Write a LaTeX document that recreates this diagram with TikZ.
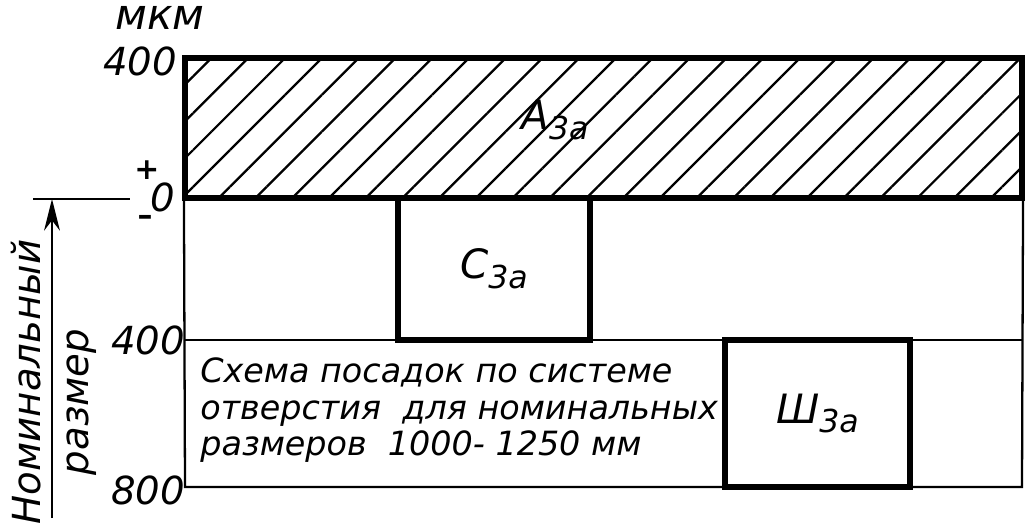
\documentclass[tikz,border=0pt]{standalone}
\usepackage{fontspec}
\setmainfont{DejaVu Sans}
\usetikzlibrary{arrows.meta, patterns.meta}
\def \Afit {А\raisebox{-0.45ex}{\fontsize{18}{18}\selectfont 3а}}
\def \Cfit {С\raisebox{-0.45ex}{\fontsize{18}{18}\selectfont 3а}}
\def \Shfit {Ш\raisebox{-0.45ex}{\fontsize{18}{18}\selectfont 3а}}

\begin{document}
\begin{tikzpicture}[
    x=0.02cm, y=-0.02cm,
    holefield/.style={
        rectangle,
        draw=black,
        line width=3.4pt,
        pattern={Lines[angle=45, distance=14.8pt, line width=1.3pt]},
        minimum width=16.74cm,
        minimum height=2.8cm,
        inner sep=0pt
    },
    shaftfield/.style={
        rectangle,
        draw=black,
        line width=3.4pt,
        inner sep=0pt,
        font=\fontsize{23}{23}\selectfont\itshape
    },
    fitlabel/.style={
        font=\fontsize{23}{23}\selectfont\itshape,
        inner sep=0pt
    },
    numlabel/.style={
        font=\fontsize{22}{22}\selectfont\itshape,
        inner sep=0pt
    },
    signlabel/.style={
        font=\fontsize{17}{17}\selectfont\bfseries,
        inner sep=0pt
    },
    notetext/.style={
        font=\fontsize{19}{21}\selectfont\itshape,
        align=left,
        inner sep=0pt
    },
    thinline/.style={
        line width=1.3pt
    },
    arrow/.style={
        -{Stealth[length=18pt, width=9pt]},
        line width=1.3pt
    }
]
\useasboundingbox (0,0) rectangle (1029,527);

% Hole tolerance field
\node[holefield] (fieldA) at (603.5,128) {};
\node[fitlabel] (labelA) at (555,120) {\Afit};

% Grid lines below zero
\draw[thinline] (fieldA.south west) -- (185,487) coordinate (lvl800L)
    -- (1022,487) coordinate (lvl800R) -- (fieldA.south east);
\coordinate (lvl400L) at (185,340);
\coordinate (lvl400R) at (1022,340);
\draw[thinline] (lvl400L) -- (lvl400R);

% Shaft fields
\node[shaftfield, minimum width=3.84cm, minimum height=2.84cm] (fieldC) at (494,269) {\Cfit};
\node[shaftfield, minimum width=3.7cm, minimum height=2.94cm] (fieldSh) at (817.5,413.5) {\Shfit};

% Scale
\node[numlabel, font=\fontsize{24}{24}\selectfont\itshape] (mkm) at (160,18) {мкм};
\node[numlabel] (top400) at (140,61) {400};
\node[signlabel] (plus) at (147,170) {+};
\node[numlabel] (zero) at (163,197) {0};
\node[signlabel] (minus) at (145,220) {–};
\node[numlabel] (mid400) at (148,340) {400};
\node[numlabel] (bot800) at (148,490) {800};

% Nominal size
\coordinate (nomL) at (33,199);
\coordinate (nomR) at (130,199);
\draw[thinline] (nomL) -- (nomR);
\coordinate (arrTail) at (52,518);
\coordinate (arrHead) at (52,199);
\draw[arrow] (arrTail) -- (arrHead);
\node[numlabel, rotate=90] (nomWord) at (26,382) {Номинальный};
\node[numlabel, rotate=90] (sizeWord) at (82,402) {размер};

% Caption
\node[notetext, anchor=north west] (note) at (200,357) {Схема посадок по системе\\отверстия\ \ для номинальных\\размеров\ \ 1000- 1250 мм};

\end{tikzpicture}
\end{document}
